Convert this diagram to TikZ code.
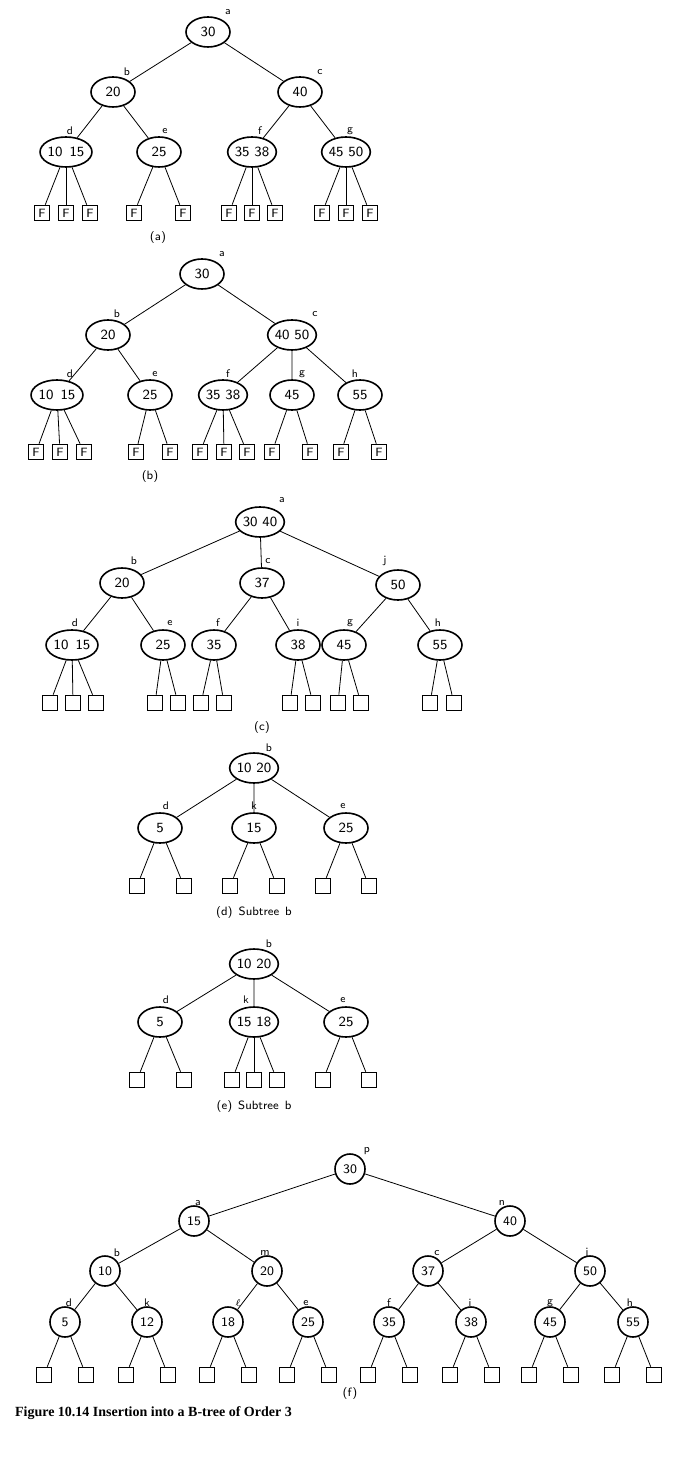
\documentclass[tikz,border=0pt]{standalone}
\usepackage{fontspec}
\newfontfamily\capfont{Liberation Serif}
\usetikzlibrary{shapes.geometric}
\begin{document}
\begin{tikzpicture}[x=0.5pt,y=-0.5pt,
  key/.style={ellipse,draw,thick,minimum width=22pt,minimum height=15pt,inner sep=0pt,font=\sffamily\fontsize{7}{8}\selectfont},
  ckey/.style={circle,draw,thick,minimum size=15pt,inner sep=0pt,font=\sffamily\fontsize{6.5}{8}\selectfont},
  lf/.style={draw,thick,minimum size=7.5pt,inner sep=0pt},
  fl/.style={lf,font=\sffamily\fontsize{6}{7}\selectfont},
  lab/.style={font=\sffamily\fontsize{5.5}{6}\selectfont},
  captxt/.style={font=\sffamily\fontsize{6}{7}\selectfont},
  every path/.style={line width=0.4pt}]
\useasboundingbox (0,0) rectangle (700,1460);
\fill[white] (0,0) rectangle (700,1460);
% ---------- (a)
\node[key] (aa) at (208,32) {30}; \node[lab] at (228,12) {a};
\node[key] (ab) at (113,92) {20}; \node[lab] at (127,72) {b};
\node[key] (ac) at (300,92) {40}; \node[lab] at (320,72) {c};
\node[key] (ad) at (66,152) {10\,\,\,15}; \node[lab] at (70,131) {d};
\node[key] (ae) at (159,152) {25}; \node[lab] at (165,131) {e};
\node[key] (af) at (252,152) {35\,\,38}; \node[lab] at (260,131) {f};
\node[key] (ag) at (346,152) {45\,\,50}; \node[lab] at (350,131) {g};
\draw (aa)--(ab) (aa)--(ac) (ab)--(ad) (ab)--(ae) (ac)--(af) (ac)--(ag);
\foreach \p/\xs in {ad/{42,66,90},ae/{134,183},af/{229,252,275},ag/{322,346,370}}{
  \foreach \x [count=\i] in \xs {\node[fl] (\p\i) at (\x,213) {F}; \draw (\p) -- (\p\i);}}
\node[captxt] (acap) at (158,238) {(a)};
% ---------- (b)
\node[key] (ba) at (202,274) {30}; \node[lab] at (222,254) {a};
\node[key] (bb) at (108,335) {20}; \node[lab] at (117,314) {b};
\node[key] (bc) at (292,335) {40\,\,50}; \node[lab] at (315,314) {c};
\node[key] (bd) at (57,395) {10\,\,\,15}; \node[lab] at (70,374) {d};
\node[key] (be) at (150,395) {25}; \node[lab] at (155,374) {e};
\node[key] (bf) at (223,395) {35\,\,38}; \node[lab] at (228,374) {f};
\node[key] (bg) at (292,395) {45}; \node[lab] at (302,374) {g};
\node[key] (bh) at (360,395) {55}; \node[lab] at (355,374) {h};
\draw (ba)--(bb) (ba)--(bc) (bb)--(bd) (bb)--(be) (bc)--(bf) (bc)--(bg) (bc)--(bh);
\foreach \p/\xs in {bd/{36,60,84},be/{136,170},bf/{200,224,247},bg/{272,310},bh/{341,379}}{
  \foreach \x [count=\i] in \xs {\node[fl] (\p\i) at (\x,452) {F}; \draw (\p) -- (\p\i);}}
\node[captxt] (bcap) at (150,476) {(b)};
% ---------- (c)
\node[key] (ca) at (260,522) {30\,\,40}; \node[lab] at (282,500) {a};
\node[key] (cb) at (122,583) {20}; \node[lab] at (134,561) {b};
\node[key] (cc) at (262,583) {37}; \node[lab] at (268,561) {c};
\node[key] (cj) at (398,585) {50}; \node[lab] at (385,561) {j};
\node[key] (cd) at (72,645) {10\,\,\,15}; \node[lab] at (75,623) {d};
\node[key] (ce) at (163,645) {25}; \node[lab] at (170,623) {e};
\node[key] (cf) at (214,645) {35}; \node[lab] at (218,623) {f};
\node[key] (ci) at (298,645) {38}; \node[lab] at (298,623) {i};
\node[key] (cg) at (344,645) {45}; \node[lab] at (350,623) {g};
\node[key] (ch) at (440,645) {55}; \node[lab] at (438,623) {h};
\draw (ca)--(cb) (ca)--(cc) (ca)--(cj) (cb)--(cd) (cb)--(ce) (cc)--(cf) (cc)--(ci) (cj)--(cg) (cj)--(ch);
\foreach \p/\xs in {cd/{50,73,96},ce/{155,178},cf/{201,224},ci/{290,313},cg/{338,361},ch/{430,454}}{
  \foreach \x [count=\i] in \xs {\node[lf] (\p\i) at (\x,703) {}; \draw (\p) -- (\p\i);}}
\node[captxt] (ccap) at (262,727) {(c)};
% ---------- (d)
\node[key] (db) at (254,768) {10\,\,20}; \node[lab] at (269,748) {b};
\node[key] (dd) at (160,828) {5}; \node[lab] at (166,806) {d};
\node[key] (dk) at (254,828) {15}; \node[lab] at (254,806) {k};
\node[key] (de) at (346,828) {25}; \node[lab] at (343,806) {e};
\draw (db)--(dd) (db)--(dk) (db)--(de);
\foreach \p/\xs in {dd/{137,184},dk/{230,277},de/{323,369}}{
  \foreach \x [count=\i] in \xs {\node[lf] (\p\i) at (\x,886) {}; \draw (\p) -- (\p\i);}}
\node[captxt] (dcap) at (254,912) {(d)\,\,\,Subtree\,\,\,b};
% ---------- (e)
\node[key] (eb) at (254,964) {10\,\,20}; \node[lab] at (269,944) {b};
\node[key] (ed) at (160,1022) {5}; \node[lab] at (166,1000) {d};
\node[key] (ek) at (254,1022) {15\,\,18}; \node[lab] at (246,1000) {k};
\node[key] (ee) at (346,1022) {25}; \node[lab] at (343,1000) {e};
\draw (eb)--(ed) (eb)--(ek) (eb)--(ee);
\foreach \p/\xs in {ed/{137,184},ek/{232,254,277},ee/{323,369}}{
  \foreach \x [count=\i] in \xs {\node[lf] (\p\i) at (\x,1080) {}; \draw (\p) -- (\p\i);}}
\node[captxt] (ecap) at (254,1106) {(e)\,\,\,Subtree\,\,\,b};
% ---------- (f)
\node[ckey] (fp) at (350,1169) {30}; \node[lab] at (367,1151) {p};
\node[ckey] (fa) at (194,1221) {15}; \node[lab] at (198,1203) {a};
\node[ckey] (fn) at (510,1221) {40}; \node[lab] at (502,1203) {n};
\node[ckey] (fb) at (105,1271) {10}; \node[lab] at (117,1253) {b};
\node[ckey] (fm) at (267,1271) {20}; \node[lab] at (265,1253) {m};
\node[ckey] (fc) at (428,1271) {37}; \node[lab] at (437,1253) {c};
\node[ckey] (fj) at (590,1271) {50}; \node[lab] at (587,1253) {j};
\node[ckey] (fd) at (65,1322) {5}; \node[lab] at (69,1303) {d};
\node[ckey] (fk) at (147,1322) {12}; \node[lab] at (147,1303) {k};
\node[ckey] (fl) at (228,1322) {18}; \node[lab] at (238,1303) {$\ell$};
\node[ckey] (fe) at (308,1322) {25}; \node[lab] at (306,1303) {e};
\node[ckey] (ff) at (389,1322) {35}; \node[lab] at (389,1303) {f};
\node[ckey] (fi) at (471,1322) {38}; \node[lab] at (470,1303) {i};
\node[ckey] (fg) at (550,1322) {45}; \node[lab] at (550,1303) {g};
\node[ckey] (fh) at (633,1322) {55}; \node[lab] at (630,1303) {h};
\draw (fp)--(fa) (fp)--(fn) (fa)--(fb) (fa)--(fm) (fn)--(fc) (fn)--(fj)
      (fb)--(fd) (fb)--(fk) (fm)--(fl) (fm)--(fe) (fc)--(ff) (fc)--(fi) (fj)--(fg) (fj)--(fh);
\foreach \p/\x in {fd/65,fk/147,fl/228,fe/308,ff/389,fi/471,fg/550,fh/633}{
  \node[lf] (\p1) at (\x-21,1375) {}; \node[lf] (\p2) at (\x+21,1375) {};
  \draw (\p)--(\p1) (\p)--(\p2);}
\node[captxt] (fcap) at (350,1393) {(f)};
% ---------- caption
\node[anchor=west,font=\capfont\bfseries\fontsize{7}{8}\selectfont] (title) at (8,1413) {Figure 10.14 Insertion into a B-tree of Order 3};
\end{tikzpicture}
\end{document}
